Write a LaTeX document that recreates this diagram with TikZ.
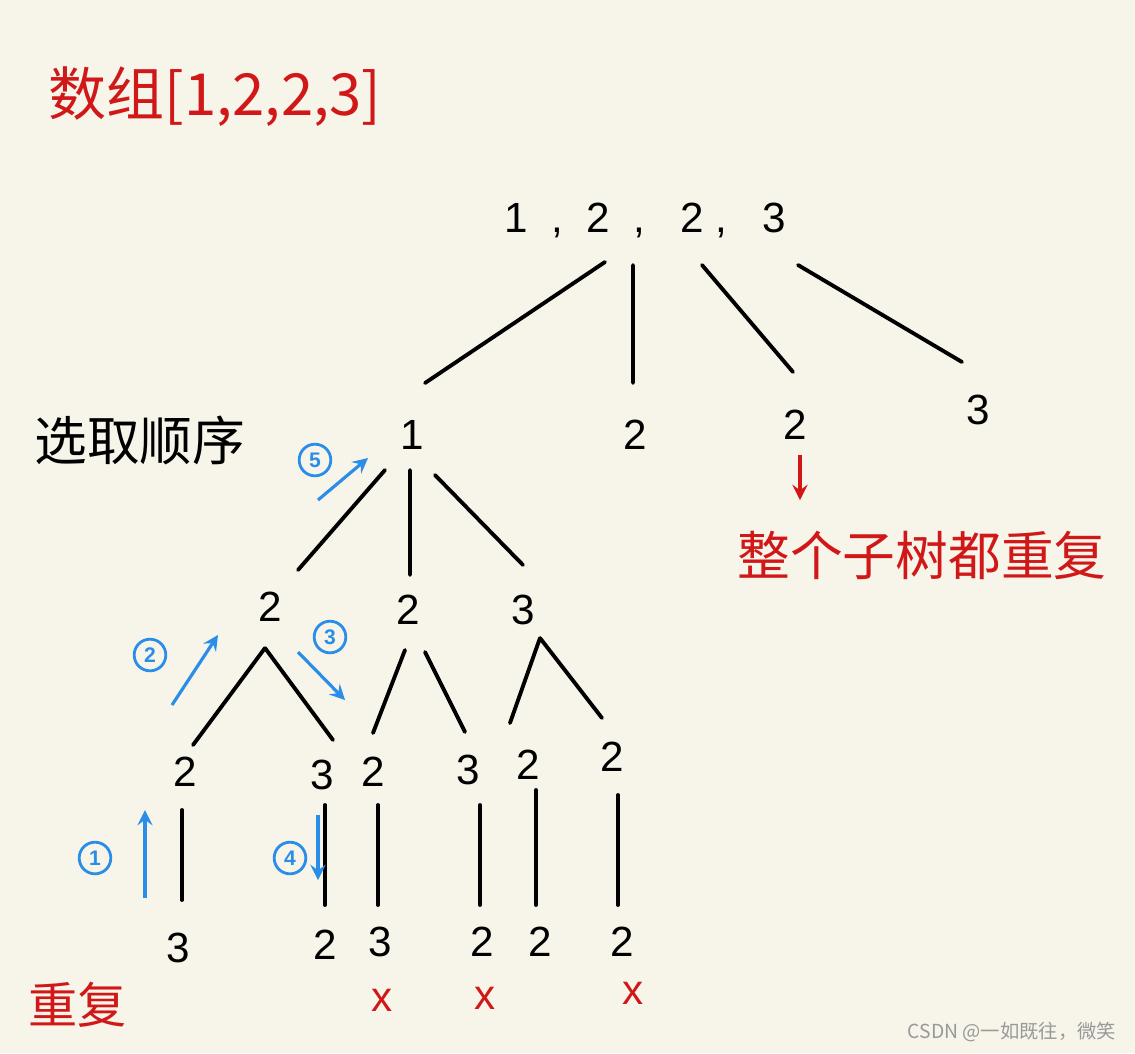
\documentclass[tikz,border=0pt]{standalone}
\usepackage{fontspec}
\setmainfont{Liberation Sans}
\newfontfamily\cjk{Noto Sans CJK SC}
\definecolor{bg}{HTML}{F7F4E9}
\definecolor{hred}{HTML}{D01818}
\definecolor{hblue}{HTML}{2A8DE8}
\begin{document}
\begin{tikzpicture}[x=0.01cm,y=-0.01cm,
  num/.style={font=\fontsize{12}{13}\selectfont},
  br/.style={line width=1.1pt,line cap=round},
  bl/.style={hblue,line width=0.9pt,-stealth},
  circ/.style={draw=hblue,circle,line width=0.8pt,text=hblue,inner sep=0.5pt,minimum size=9pt,font=\fontsize{6}{6}\selectfont\bfseries},
  rx/.style={hred,font=\fontsize{12}{13}\selectfont}]
\fill[bg] (0,0) rectangle (1135,1053);
\useasboundingbox (0,0) rectangle (1135,1053);
\node[hred,font=\cjk\fontsize{16.5}{17}\selectfont] (title) at (215,97) {数组[1,2,2,3]};
\node[font=\cjk\fontsize{15}{16}\selectfont] (order) at (140,440) {选取顺序};
\node[hred,font=\cjk\fontsize{14}{15}\selectfont] (rep) at (78,1005) {重复};
\node[hred,font=\cjk\fontsize{15}{16}\selectfont] (whole) at (922,555) {整个子树都重复};
\node[num] (r) at (645,220) {1\ \ ,\ \ 2\ \ ,\ \ \ 2\ ,\ \ \ 3};
\node[num] (a) at (412,435) {1};
\node[num] (b) at (635,435) {2};
\node[num] (c) at (795,425) {2};
\node[num] (d) at (978,410) {3};
\draw[br] (605,262)--(425,383) (633,265)--(633,383) (702,265)--(793,372) (798,265)--(962,362);
\node[num] (a1) at (270,607) {2};
\node[num] (a2) at (408,610) {2};
\node[num] (a3) at (523,610) {3};
\draw[br] (385,470)--(298,570) (410,470)--(410,575) (435,475)--(523,565);
\node[num] (x1) at (185,772) {2};
\node[num] (x2) at (322,775) {3};
\node[num] (x3) at (373,772) {2};
\node[num] (x4) at (468,770) {3};
\node[num] (x5) at (528,765) {2};
\node[num] (x6) at (612,757) {2};
\draw[br] (265,648)--(193,745) (265,648)--(333,740) (405,650)--(373,733) (425,652)--(465,732) (540,638)--(510,723) (540,638)--(602,718);
\node[num] (y1) at (178,948) {3};
\node[num] (y2) at (325,945) {2};
\node[num] (y3) at (380,942) {3};
\node[num] (y4) at (482,942) {2};
\node[num] (y5) at (540,942) {2};
\node[num] (y6) at (622,942) {2};
\draw[br] (182,810)--(182,900) (325,805)--(325,905) (378,805)--(378,905) (480,805)--(480,905) (536,790)--(536,905) (618,795)--(618,905);
\node[rx] (k1) at (382,1000) {x};
\node[rx] (k2) at (485,998) {x};
\node[rx] (k3) at (633,993) {x};
\draw[hred,line width=0.9pt,-stealth] (800,455)--(800,500);
\node[circ] (c5) at (315,460) {5};
\draw[bl] (318,500)--(368,458);
\node[circ] (c2) at (150,655) {2};
\draw[bl] (172,705)--(218,635);
\node[circ] (c3) at (330,637) {3};
\draw[bl] (298,652)--(345,700);
\node[circ] (c1) at (95,858) {1};
\draw[bl] (145,898)--(145,810);
\node[circ] (c4) at (290,858) {4};
\draw[bl] (318,815)--(318,880);
\node[gray!80,font=\cjk\fontsize{5.5}{6}\selectfont] (wm) at (1012,1032) {CSDN @一如既往，微笑};
\end{tikzpicture}
\end{document}
